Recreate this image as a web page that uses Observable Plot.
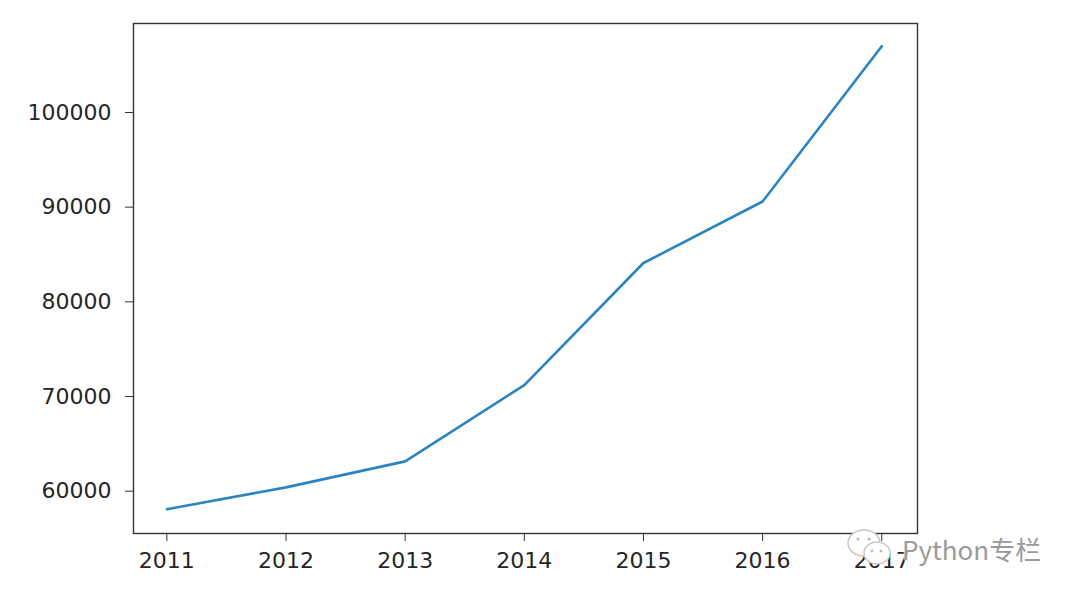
<!DOCTYPE html>
<html>
<head>
<meta charset="utf-8">
<script src="https://cdn.jsdelivr.net/npm/d3@7"></script>
<script src="https://cdn.jsdelivr.net/npm/@observablehq/plot@0.6"></script>
<style>
  html, body { margin: 0; padding: 0; background: #fff; }
  #wrap { position: relative; width: 1080px; height: 600px; overflow: hidden; }
  #wm { position: absolute; left: 846px; top: 528px; display: flex; align-items: center;
        font-family: "Noto Sans CJK SC", "DejaVu Sans", sans-serif; font-size: 26px; color: #9a9a9a;
        text-shadow: 0 0 2px #fff, 0 0 2px #fff; }
</style>
</head>
<body>
<div id="wrap">
  <div id="chart"></div>
  <div id="wm">
    <svg width="54" height="40" viewBox="0 0 54 40">
      <ellipse cx="18" cy="15" rx="16" ry="13" fill="#fff" stroke="#c8c8c8" stroke-width="1.5"/>
      <circle cx="12" cy="11" r="1.6" fill="#bbb"/><circle cx="23" cy="11" r="1.6" fill="#bbb"/>
      <ellipse cx="31" cy="25" rx="13" ry="11" fill="#fff" stroke="#c8c8c8" stroke-width="1.5"/>
      <circle cx="26" cy="23" r="1.4" fill="#bbb"/><circle cx="35" cy="23" r="1.4" fill="#bbb"/>
    </svg>
    <span style="margin-left:2px">Python专栏</span>
  </div>
</div>
<script>
const years = [2011, 2012, 2013, 2014, 2015, 2016, 2017];
const values = [58100, 60400, 63150, 71200, 84100, 90600, 107000];
const yTicks = [60000, 70000, 80000, 90000, 100000];
const xTicks = [2011, 2012, 2013, 2014, 2015, 2016, 2017];

const data = years.map((y, i) => ({year: y, value: values[i]}));

const chart = Plot.plot({
  width: 1080,
  height: 600,
  marginLeft: 133,
  marginRight: 163,
  marginTop: 23,
  marginBottom: 67,
  style: {fontFamily: "DejaVu Sans", fontSize: "22px", color: "#262626", background: "#fff"},
  x: {domain: [2010.72, 2017.30], ticks: xTicks, tickFormat: d => String(d), label: null},
  y: {domain: [55530, 109400], ticks: yTicks, tickFormat: d => String(d), label: null},
  marks: [
    Plot.axisX({ticks: xTicks, tickFormat: d => String(d), tickSize: 8, tickPadding: 11, stroke: "#333", fill: "#262626", label: null}),
    Plot.axisY({ticks: yTicks, tickFormat: d => String(d), tickSize: 8, tickPadding: 14, stroke: "#333", fill: "#262626", label: null}),
    Plot.line(data, {x: "year", y: "value", stroke: "#2b83c0", strokeWidth: 2.6}),
    Plot.frame({stroke: "#333", strokeWidth: 1.4})
  ]
});
document.getElementById("chart").appendChild(chart);
</script>
</body>
</html>
